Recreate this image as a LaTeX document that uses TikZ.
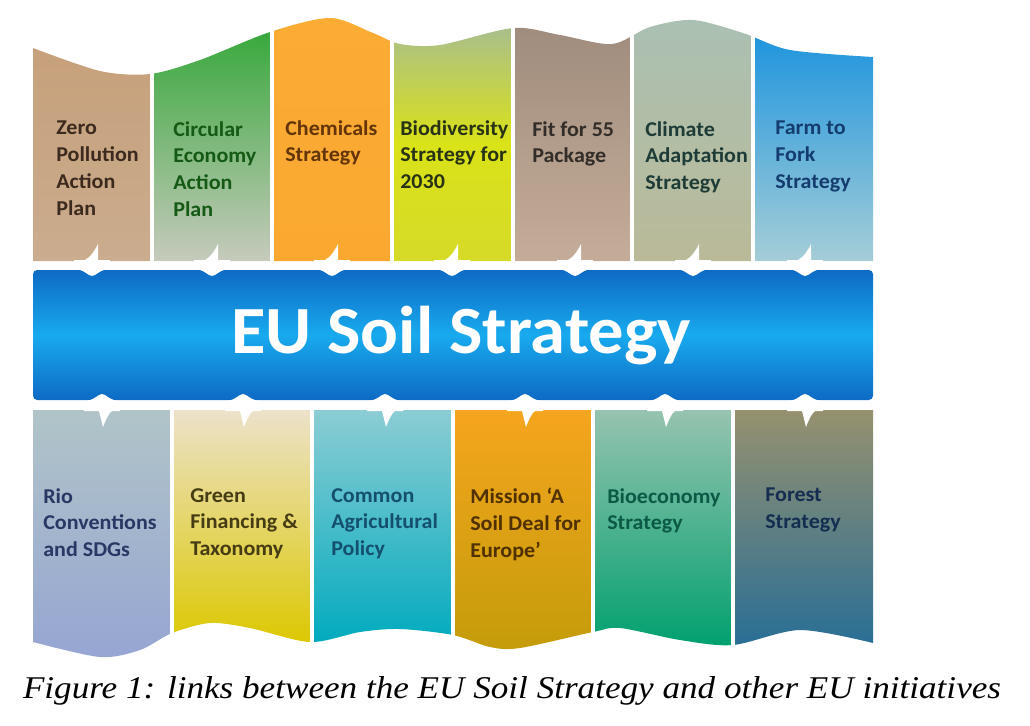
\documentclass[tikz,border=0pt]{standalone}
\usepackage{fontspec}
\setmainfont{Liberation Serif}
\newfontfamily\calfont[FakeStretch=1.045]{Carlito}
\newfontfamily\capfont[FakeStretch=1.11]{Liberation Serif}

% column colours (top / bottom of each strip)
\definecolor{zpTop}{RGB}{198,160,122}
\definecolor{zpBot}{RGB}{202,172,142}
\definecolor{ceTop}{RGB}{56,168,60}
\definecolor{ceBot}{RGB}{198,202,188}
\definecolor{chTop}{RGB}{250,172,52}
\definecolor{chBot}{RGB}{250,168,48}
\definecolor{bdTop}{RGB}{168,190,142}
\definecolor{bdMid}{RGB}{218,226,24}
\definecolor{bdBot}{RGB}{214,218,40}
\definecolor{ffTop}{RGB}{160,140,125}
\definecolor{ffBot}{RGB}{196,172,152}
\definecolor{caTop}{RGB}{170,192,178}
\definecolor{caBot}{RGB}{186,186,152}
\definecolor{fkTop}{RGB}{28,148,222}
\definecolor{fkBot}{RGB}{165,205,215}
\definecolor{rioTop}{RGB}{176,196,200}
\definecolor{rioBot}{RGB}{150,165,210}
\definecolor{gfTop}{RGB}{236,226,202}
\definecolor{gfBot}{RGB}{220,200,0}
\definecolor{capTop}{RGB}{140,205,212}
\definecolor{capBot}{RGB}{0,170,190}
\definecolor{msTop}{RGB}{245,165,30}
\definecolor{msBot}{RGB}{196,156,10}
\definecolor{bioTop}{RGB}{150,195,176}
\definecolor{bioBot}{RGB}{0,160,110}
\definecolor{frTop}{RGB}{150,145,110}
\definecolor{frBot}{RGB}{40,110,150}
\definecolor{bandDark}{RGB}{14,106,196}
\definecolor{bandLight}{RGB}{24,170,238}

% text colours
\definecolor{zpText}{RGB}{60,42,30}
\definecolor{ceText}{RGB}{20,90,20}
\definecolor{chText}{RGB}{100,52,10}
\definecolor{bdText}{RGB}{40,50,20}
\definecolor{ffText}{RGB}{50,45,40}
\definecolor{caText}{RGB}{30,60,55}
\definecolor{fkText}{RGB}{20,60,110}
\definecolor{rioText}{RGB}{40,55,100}
\definecolor{gfText}{RGB}{70,60,20}
\definecolor{capText}{RGB}{20,80,110}
\definecolor{msText}{RGB}{80,50,0}
\definecolor{bioText}{RGB}{10,90,70}
\definecolor{frText}{RGB}{20,45,80}

\begin{document}
\begin{tikzpicture}[
    x=0.025cm, y=-0.025cm,
    initiative/.style={anchor=north west, inner sep=0pt, align=left, font=\calfont\bfseries\fontsize{15}{19}\selectfont},
    soiltitle/.style={anchor=base, inner sep=0pt, text=white, font=\calfont\bfseries\fontsize{48}{55}\selectfont},
    figcaption/.style={anchor=base, inner sep=0pt, font=\capfont\itshape\fontsize{22.5}{26}\selectfont},
    divider/.style={draw=white, line width=2.2pt},
    notch/.style={fill=white}
    ]

    \useasboundingbox (0,0) rectangle (1030,725);

    % Top row: wavy strips
    \begin{scope}
        \clip (33,261) -- plot[smooth] coordinates {(33,48) (100,71) (150,74) (200,60) (270,32) (330,18) (373,33) (400,44) (440,45) (513,28) (560,35) (612,44) (650,27) (693,20) (743,33) (790,50) (873,57)} -- (873,261) -- cycle;
        \shade[top color=zpTop, bottom color=zpBot] (33,40) rectangle (152,261);
        \shade[top color=ceTop, bottom color=ceBot] (152,30) rectangle (272,261);
        \shade[top color=chTop, bottom color=chBot] (272,15) rectangle (392,261);
        \shade[top color=bdTop, bottom color=bdBot, middle color=bdMid] (392,25) rectangle (513,261);
        \shade[top color=ffTop, bottom color=ffBot] (513,25) rectangle (632,261);
        \shade[top color=caTop, bottom color=caBot] (632,18) rectangle (753,261);
        \shade[top color=fkTop, bottom color=fkBot] (753,30) rectangle (873,261);
    \end{scope}
    \draw[divider] (152,0) -- (152,262);
    \draw[divider] (272,0) -- (272,262);
    \draw[divider] (392,0) -- (392,262);
    \draw[divider] (513,0) -- (513,262);
    \draw[divider] (632,0) -- (632,262);
    \draw[divider] (753,0) -- (753,262);

    % Bottom row: wavy strips
    \begin{scope}
        \clip (33,410) -- plot[smooth] coordinates {(33,642) (100,657) (140,650) (172,633) (210,623) (250,628) (310,642) (360,632) (400,629) (453,635) (490,647) (520,648) (593,632) (620,628) (680,640) (733,645) (800,630) (873,643)} -- (873,410) -- cycle;
        \shade[top color=rioTop, bottom color=rioBot] (33,410) rectangle (172,660);
        \shade[top color=gfTop, bottom color=gfBot] (172,410) rectangle (312,645);
        \shade[top color=capTop, bottom color=capBot] (312,410) rectangle (453,645);
        \shade[top color=msTop, bottom color=msBot] (453,410) rectangle (593,650);
        \shade[top color=bioTop, bottom color=bioBot] (593,410) rectangle (733,648);
        \shade[top color=frTop, bottom color=frBot] (733,410) rectangle (873,648);
    \end{scope}
    \draw[divider] (172,408) -- (172,665);
    \draw[divider] (312,408) -- (312,665);
    \draw[divider] (453,408) -- (453,665);
    \draw[divider] (593,408) -- (593,665);
    \draw[divider] (733,408) -- (733,665);

    % Middle band
    \shade[top color=bandDark, bottom color=bandDark, middle color=bandLight, rounded corners=3pt] (33,270) rectangle (873,400);

    % Notches into the band (top row)
    \fill[notch, shift={(92,0)}] (-18,269) .. controls (-8,269) and (-4,276) .. (0,276) .. controls (4,276) and (8,269) .. (18,269) -- (18,260) -- (6,260) -- (6,244) .. controls (3,250) and (-1,257) .. (-7,260) -- (-18,260) -- cycle;
    \fill[notch, shift={(212,0)}] (-18,269) .. controls (-8,269) and (-4,276) .. (0,276) .. controls (4,276) and (8,269) .. (18,269) -- (18,260) -- (6,260) -- (6,244) .. controls (3,250) and (-1,257) .. (-7,260) -- (-18,260) -- cycle;
    \fill[notch, shift={(332,0)}] (-18,269) .. controls (-8,269) and (-4,276) .. (0,276) .. controls (4,276) and (8,269) .. (18,269) -- (18,260) -- (6,260) -- (6,244) .. controls (3,250) and (-1,257) .. (-7,260) -- (-18,260) -- cycle;
    \fill[notch, shift={(452,0)}] (-18,269) .. controls (-8,269) and (-4,276) .. (0,276) .. controls (4,276) and (8,269) .. (18,269) -- (18,260) -- (6,260) -- (6,244) .. controls (3,250) and (-1,257) .. (-7,260) -- (-18,260) -- cycle;
    \fill[notch, shift={(575,0)}] (-18,269) .. controls (-8,269) and (-4,276) .. (0,276) .. controls (4,276) and (8,269) .. (18,269) -- (18,260) -- (6,260) -- (6,244) .. controls (3,250) and (-1,257) .. (-7,260) -- (-18,260) -- cycle;
    \fill[notch, shift={(693,0)}] (-18,269) .. controls (-8,269) and (-4,276) .. (0,276) .. controls (4,276) and (8,269) .. (18,269) -- (18,260) -- (6,260) -- (6,244) .. controls (3,250) and (-1,257) .. (-7,260) -- (-18,260) -- cycle;
    \fill[notch, shift={(805,0)}] (-18,269) .. controls (-8,269) and (-4,276) .. (0,276) .. controls (4,276) and (8,269) .. (18,269) -- (18,260) -- (6,260) -- (6,244) .. controls (3,250) and (-1,257) .. (-7,260) -- (-18,260) -- cycle;

    % Notches into the band (bottom row)
    \fill[notch, shift={(102,0)}] (-18,401) .. controls (-8,401) and (-4,394) .. (0,394) .. controls (4,394) and (8,401) .. (18,401) -- (18,411) -- (10,411) .. controls (7,413) and (4,419) .. (1,427) -- (-3,411) -- (-18,411) -- cycle;
    \fill[notch, shift={(243,0)}] (-18,401) .. controls (-8,401) and (-4,394) .. (0,394) .. controls (4,394) and (8,401) .. (18,401) -- (18,411) -- (10,411) .. controls (7,413) and (4,419) .. (1,427) -- (-3,411) -- (-18,411) -- cycle;
    \fill[notch, shift={(385,0)}] (-18,401) .. controls (-8,401) and (-4,394) .. (0,394) .. controls (4,394) and (8,401) .. (18,401) -- (18,411) -- (10,411) .. controls (7,413) and (4,419) .. (1,427) -- (-3,411) -- (-18,411) -- cycle;
    \fill[notch, shift={(525,0)}] (-18,401) .. controls (-8,401) and (-4,394) .. (0,394) .. controls (4,394) and (8,401) .. (18,401) -- (18,411) -- (10,411) .. controls (7,413) and (4,419) .. (1,427) -- (-3,411) -- (-18,411) -- cycle;
    \fill[notch, shift={(665,0)}] (-18,401) .. controls (-8,401) and (-4,394) .. (0,394) .. controls (4,394) and (8,401) .. (18,401) -- (18,411) -- (10,411) .. controls (7,413) and (4,419) .. (1,427) -- (-3,411) -- (-18,411) -- cycle;
    \fill[notch, shift={(805,0)}] (-18,401) .. controls (-8,401) and (-4,394) .. (0,394) .. controls (4,394) and (8,401) .. (18,401) -- (18,411) -- (10,411) .. controls (7,413) and (4,419) .. (1,427) -- (-3,411) -- (-18,411) -- cycle;

    % Title in the band
    \node[soiltitle] (soil) at (461,353) {EU Soil Strategy};

    % Top row labels
    \node[initiative, text=zpText] (zeropol) at (56,121) {Zero\\Pollution\\Action\\Plan};
    \node[initiative, text=ceText] (circular) at (173,121) {Circular\\Economy\\Action\\Plan};
    \node[initiative, text=chText] (chem) at (285,120) {Chemicals\\Strategy};
    \node[initiative, text=bdText] (biodiv) at (400,120) {Biodiversity\\Strategy for\\2030};
    \node[initiative, text=ffText] (fit55) at (532,121) {Fit for 55\\Package};
    \node[initiative, text=caText] (climate) at (645,121) {Climate\\Adaptation\\Strategy};
    \node[initiative, text=fkText] (farmfork) at (775,121) {Farm to\\Fork\\Strategy};

    % Bottom row labels
    \node[initiative, text=rioText] (rio) at (43,488) {Rio\\Conventions\\and SDGs};
    \node[initiative, text=gfText] (greenfin) at (190,488) {Green\\Financing \&\\Taxonomy};
    \node[initiative, text=capText] (cap) at (331,488) {Common\\Agricultural\\Policy};
    \node[initiative, text=msText] (mission) at (470,488) {Mission ‘A\\Soil Deal for\\Europe’};
    \node[initiative, text=bioText] (bioeco) at (607,488) {Bioeconomy\\Strategy};
    \node[initiative, text=frText] (forest) at (765,488) {Forest\\Strategy};

    % Caption
    \node[figcaption] (caption) at (512,698) {Figure 1: links between the EU Soil Strategy and other EU initiatives};

\end{tikzpicture}
\end{document}
